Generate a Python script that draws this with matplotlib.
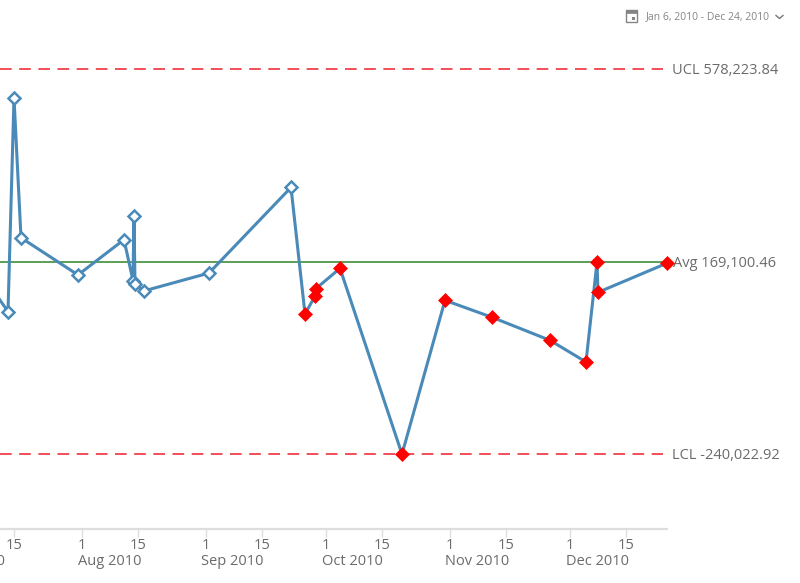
import pandas as pd
import matplotlib.pyplot as plt
import matplotlib.dates as mdates
from matplotlib.patches import Rectangle
from matplotlib.lines import Line2D

plt.rcParams['font.family'] = ['Open Sans', 'DejaVu Sans']

# Data
dates = ['2010-07-09 00:00', '2010-07-13 12:00', '2010-07-15 00:00', '2010-07-16 18:00',
         '2010-07-31 00:00', '2010-08-11 12:00', '2010-08-13 18:00', '2010-08-14 00:00',
         '2010-08-14 06:00', '2010-08-16 12:00', '2010-09-01 18:00', '2010-09-22 06:00',
         '2010-09-25 18:00', '2010-09-28 06:00', '2010-09-28 12:00', '2010-10-04 12:00',
         '2010-10-20 00:00', '2010-10-30 18:00', '2010-11-11 12:00', '2010-11-26 00:00',
         '2010-12-05 00:00', '2010-12-07 18:00', '2010-12-08 00:00', '2010-12-25 06:00']
values = [118000, 63000, 517000, 220000, 141000, 216000, 129000, 267000, 122000, 107000,
          145000, 327000, 58000, 96000, 112000, 155000, -240000, 87000, 51000, 2000,
          -44000, 168000, 104000, 166000]
# 0 = hollow blue diamond, 1 = filled red diamond
flags = [0, 0, 0, 0, 0, 0, 0, 0, 0, 0, 0, 0, 1, 1, 1, 1, 1, 1, 1, 1, 1, 1, 1, 1]

ucl = 578223.84
avg = 169100.46
lcl = -240022.92

limit_labels = ['UCL 578,223.84', 'Avg 169,100.46', 'LCL -240,022.92']
month_labels = ['Jul 2010', 'Aug 2010', 'Sep 2010', 'Oct 2010', 'Nov 2010', 'Dec 2010']
month_centers = ['2010-07-06', '2010-08-08', '2010-09-07 12:00', '2010-10-07 12:00',
                 '2010-11-07 18:00', '2010-12-07 18:00']
date_range = 'Jan 6, 2010 - Dec 24, 2010'

grey = '#6b6b6b'
blue = '#4a8ab8'

df = pd.DataFrame({'date': pd.to_datetime(dates), 'value': values, 'flag': flags})

fig = plt.figure(figsize=(8.0, 5.83), dpi=100)
ax = fig.add_axes([0, 54 / 583, 667 / 800, 509 / 583])

# Limits chosen so the axes line up with the 4 px per day spacing
ax.set_xlim(pd.Timestamp('2010-07-11 12:00'), pd.Timestamp('2010-12-25 06:00'))
ax.set_ylim(-399000, 682800)

ax.axhline(ucl, xmax=663 / 667, color='#f0303c', lw=1.2, dashes=(7, 4.5))
ax.axhline(lcl, xmax=663 / 667, color='#f0303c', lw=1.2, dashes=(7, 4.5))
ax.axhline(avg, color='#3f8f3a', lw=1.2)

ax.plot(df['date'], df['value'], color=blue, lw=2.2, zorder=3)

hollow = df[df['flag'] == 0]
red = df[df['flag'] == 1]
ax.plot(hollow['date'], hollow['value'], ls='none', marker='D', ms=6.5, mfc='white',
        mec=blue, mew=1.8, zorder=4)
ax.plot(red['date'], red['value'], ls='none', marker='D', ms=7.5, mfc='#ff0000',
        mec='#ff0000', mew=0.5, zorder=5, clip_on=False)

for s in ['top', 'left', 'right']:
    ax.spines[s].set_visible(False)
ax.spines['bottom'].set_color('#dddddd')
ax.spines['bottom'].set_linewidth(1.6)

ax.set_yticks([])
ax.xaxis.set_major_locator(mdates.DayLocator(bymonthday=[1, 15]))
ax.xaxis.set_major_formatter(mdates.DateFormatter('%-d'))
ax.tick_params(axis='x', length=6, width=1, color='#dddddd', labelcolor=grey,
               labelsize=10.5, pad=0.5)

for label, center in zip(month_labels, month_centers):
    ax.annotate(label, xy=(pd.Timestamp(center), 0), xycoords=('data', 'axes fraction'),
                xytext=(0, -32.5), textcoords='offset pixels', ha='center', va='center',
                fontsize=10.5, color=grey, annotation_clip=False)

for label, val, off in zip(limit_labels, [ucl, avg, lcl], [672, 673, 672]):
    ax.annotate(label, xy=(0, val), xycoords=('axes fraction', 'data'),
                xytext=(off, -5), textcoords='offset pixels', ha='left', va='baseline',
                fontsize=10.5, color=grey, annotation_clip=False)

# Date range picker in the top right corner
fig.text(646 / 800, 1 - 16.5 / 583, date_range, ha='left', va='center', fontsize=7.45, color='#858585')
fig.add_artist(Rectangle((626 / 800, 1 - 22 / 583), 11 / 800, 12 / 583, transform=fig.transFigure,
                         fill=False, ec='#858585', lw=1))
fig.add_artist(Rectangle((626 / 800, 1 - 13 / 583), 11 / 800, 3 / 583, transform=fig.transFigure,
                         fc='#858585', ec='#858585', lw=0.5))
fig.add_artist(Rectangle((632 / 800, 1 - 20 / 583), 3 / 800, 3 / 583, transform=fig.transFigure,
                         fc='#858585', ec='none'))
fig.add_artist(Line2D([776 / 800, 779.5 / 800, 783 / 800],
                      [1 - 15.5 / 583, 1 - 18.5 / 583, 1 - 15.5 / 583],
                      transform=fig.transFigure, color='#777777', lw=1))

fig.savefig('out.png', dpi=100)
